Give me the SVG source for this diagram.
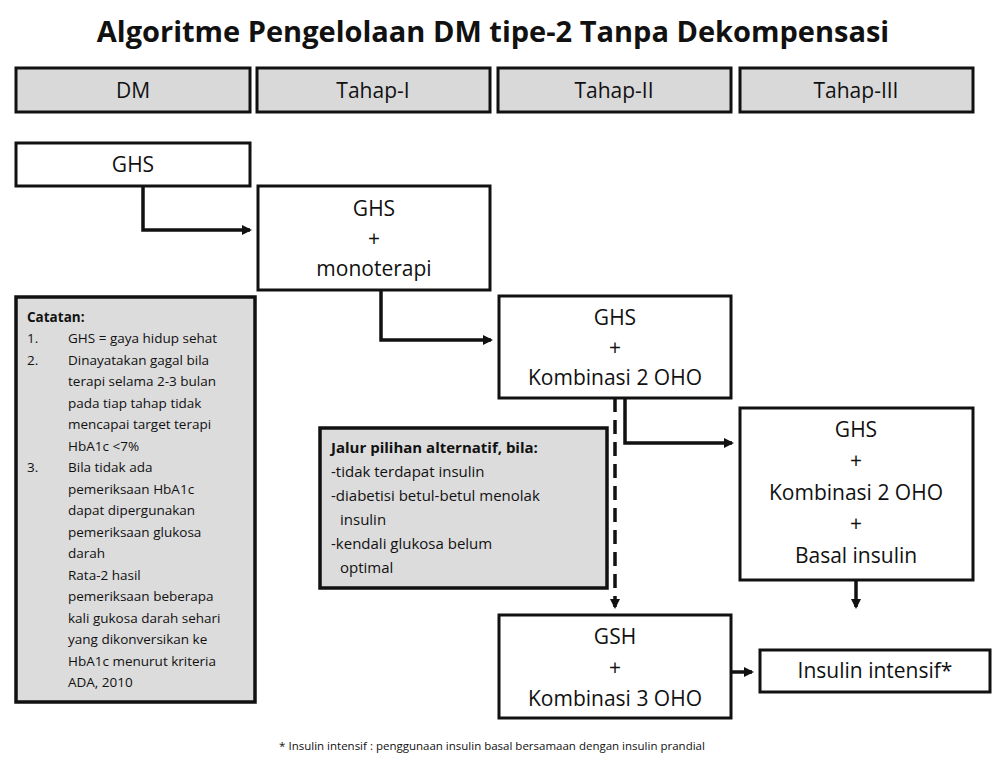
<svg xmlns="http://www.w3.org/2000/svg" width="1007" height="776" viewBox="0 0 1007 776">
<defs>
<style>
text{font-family:"Open Sans","Liberation Sans",sans-serif;fill:#111}
.hd{fill:#d9d9d9;stroke:#111;stroke-width:3}
.bx{fill:#fff;stroke:#111;stroke-width:3}
.gb{fill:#dcdcdc;stroke:#111;stroke-width:3.5}
.t{font-size:21px;text-anchor:middle}
.n{font-size:13.5px}
.c{fill:none;stroke:#111;stroke-width:3.5}
</style>
<marker id="a" markerWidth="10" markerHeight="10" refX="8" refY="5" orient="auto" markerUnits="userSpaceOnUse"><path d="M0,0L10,5L0,10z" fill="#111"/></marker>
</defs>
<rect width="1007" height="776" fill="#fff"/>
<text x="493" y="42" font-size="29" font-weight="700" text-anchor="middle">Algoritme Pengelolaan DM tipe-2 Tanpa Dekompensasi</text>
<g id="header">
<rect class="hd" x="16" y="68" width="234" height="44"/><text class="t" x="133" y="98">DM</text>
<rect class="hd" x="257" y="68" width="233" height="44"/><text class="t" x="373" y="98">Tahap-I</text>
<rect class="hd" x="498" y="68" width="233" height="44"/><text class="t" x="614" y="98">Tahap-II</text>
<rect class="hd" x="740" y="68" width="233" height="44"/><text class="t" x="856" y="98">Tahap-III</text>
</g>
<g id="connectors">
<path class="c" d="M143,186V230H250" marker-end="url(#a)"/>
<path class="c" d="M381,290V340H491" marker-end="url(#a)"/>
<path class="c" d="M625,398V443H732" marker-end="url(#a)"/>
<path class="c" d="M615,398V607" stroke-dasharray="14,8" marker-end="url(#a)"/>
<path class="c" d="M856,580V607" marker-end="url(#a)"/>
<path class="c" d="M731,672H752" marker-end="url(#a)"/>
</g>
<g id="ghs"><rect class="bx" x="16" y="143" width="234" height="43"/><text class="t" x="133" y="172">GHS</text></g>
<g id="mono"><rect class="bx" x="258" y="186" width="232" height="104"/>
<text class="t" x="374" y="216">GHS</text><text class="t" x="374" y="246">+</text><text class="t" x="374" y="276">monoterapi</text></g>
<g id="komb2"><rect class="bx" x="499" y="296" width="232" height="102"/>
<text class="t" x="615" y="325">GHS</text><text class="t" x="615" y="355">+</text><text class="t" x="615" y="385">Kombinasi 2 OHO</text></g>
<g id="basal"><rect class="bx" x="740" y="408" width="233" height="172"/>
<text class="t" x="856" y="437">GHS</text><text class="t" x="856" y="468">+</text><text class="t" x="856" y="500">Kombinasi 2 OHO</text><text class="t" x="856" y="531">+</text><text class="t" x="856" y="563">Basal insulin</text></g>
<g id="komb3"><rect class="bx" x="499" y="615" width="232" height="103"/>
<text class="t" x="615" y="644">GSH</text><text class="t" x="615" y="675">+</text><text class="t" x="615" y="706">Kombinasi 3 OHO</text></g>
<g id="intensif"><rect class="bx" x="760" y="650" width="230" height="42"/><text class="t" x="875" y="678">Insulin intensif*</text></g>
<g id="catatan"><rect class="gb" x="16" y="297" width="239" height="405"/>
<text class="n" x="27" y="322" font-weight="700">Catatan:</text>
<text class="n" x="27" y="343">1.</text><text class="n" x="68" y="343">GHS = gaya hidup sehat</text>
<text class="n" x="27" y="365">2.</text><text class="n" x="68" y="365">Dinayatakan gagal bila</text>
<text class="n" x="68" y="386">terapi selama 2-3 bulan</text>
<text class="n" x="68" y="408">pada tiap tahap tidak</text>
<text class="n" x="68" y="429">mencapai target terapi</text>
<text class="n" x="68" y="451">HbA1c &lt;7%</text>
<text class="n" x="27" y="472">3.</text><text class="n" x="68" y="472">Bila tidak ada</text>
<text class="n" x="68" y="494">pemeriksaan HbA1c</text>
<text class="n" x="68" y="515">dapat dipergunakan</text>
<text class="n" x="68" y="537">pemeriksaan glukosa</text>
<text class="n" x="68" y="558">darah</text>
<text class="n" x="68" y="580">Rata-2 hasil</text>
<text class="n" x="68" y="601">pemeriksaan beberapa</text>
<text class="n" x="68" y="623">kali gukosa darah sehari</text>
<text class="n" x="68" y="644">yang dikonversikan ke</text>
<text class="n" x="68" y="666">HbA1c menurut kriteria</text>
<text class="n" x="68" y="687">ADA, 2010</text>
</g>
<g id="alternatif"><rect class="gb" x="320" y="428" width="287" height="160"/>
<text x="331" y="453" font-weight="700" font-size="15">Jalur pilihan alternatif, bila:</text>
<text x="331" y="477" font-size="15">-tidak terdapat insulin</text>
<text x="331" y="501" font-size="15">-diabetisi betul-betul menolak</text>
<text x="340" y="525" font-size="15">insulin</text>
<text x="331" y="549" font-size="15">-kendali glukosa belum</text>
<text x="340" y="573" font-size="15">optimal</text>
</g>
<text x="492" y="750" font-size="11.5" text-anchor="middle">* Insulin intensif : penggunaan insulin basal bersamaan dengan insulin prandial</text>
</svg>
